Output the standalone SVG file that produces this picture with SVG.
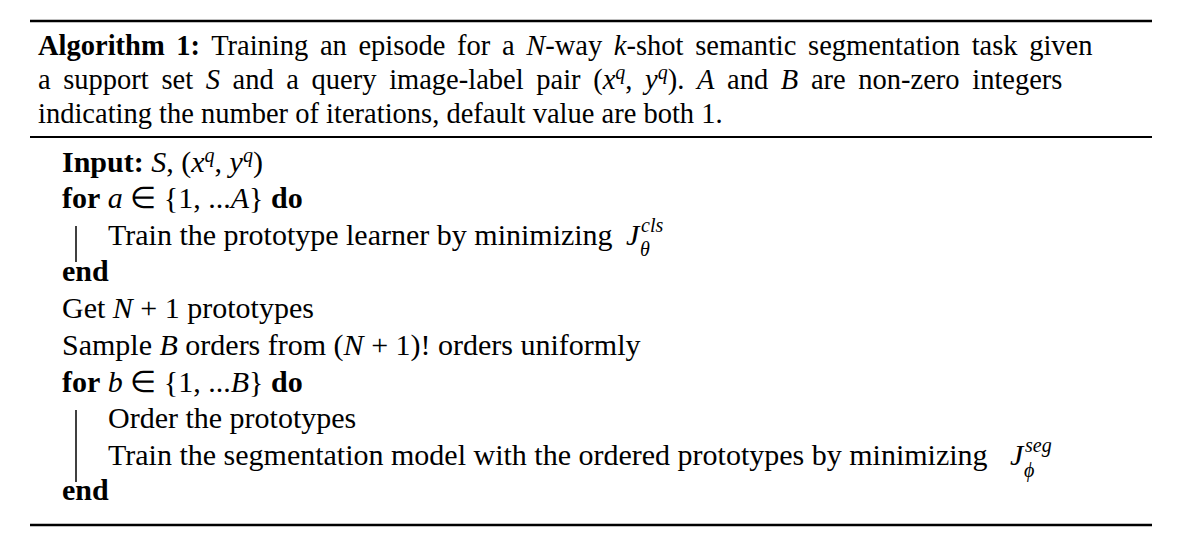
<svg xmlns="http://www.w3.org/2000/svg" width="1194" height="543" viewBox="0 0 1194 543">
<style>
text{font-family:"Liberation Serif","Times New Roman",serif;font-size:30px;fill:#000}
.c{font-size:28.5px}
.b{font-weight:bold}
.i{font-style:italic}
.s{font-size:20px;font-style:italic}
line{stroke:#000}
</style>
<rect width="1194" height="543" fill="#fff"/>
<line x1="30" y1="21" x2="1152" y2="21" stroke-width="2.5"/>
<line x1="30" y1="137" x2="1152" y2="137" stroke-width="2"/>
<line x1="30" y1="525" x2="1152" y2="525" stroke-width="2.5"/>
<text x="38" y="55" class="c" word-spacing="4.5"><tspan class="b">Algorithm 1:</tspan> Training an episode for a <tspan class="i">N</tspan>-way <tspan class="i">k</tspan>-shot semantic segmentation task given</text>
<text x="38" y="89" class="c" word-spacing="5.5">a support set <tspan class="i">S</tspan> and a query image-label pair (<tspan class="i">x</tspan><tspan class="s" dy="-10">q</tspan><tspan dy="10">,</tspan><tspan class="i"> y</tspan><tspan class="s" dy="-10">q</tspan><tspan dy="10">).  </tspan><tspan class="i">A</tspan> and <tspan class="i">B</tspan> are non-zero integers</text>
<text x="38" y="123" class="c">indicating the number of iterations, default value are both 1.</text>
<text x="62" y="172"><tspan class="b">Input:</tspan><tspan class="i"> S</tspan>, (<tspan class="i">x</tspan><tspan class="s" dy="-10">q</tspan><tspan dy="10">,</tspan><tspan class="i"> y</tspan><tspan class="s" dy="-10">q</tspan><tspan dy="10">)</tspan></text>
<text x="62" y="208"><tspan class="b">for</tspan> <tspan class="i">a</tspan> ∈ {1, ...<tspan class="i">A</tspan>} <tspan class="b">do</tspan></text>
<line x1="76" y1="226" x2="76" y2="262" stroke-width="1.5"/>
<text x="108" y="245">Train the prototype learner by minimizing</text>
<text x="626" y="245" class="i">J</text>
<text x="641" y="232" class="s">cls</text>
<text x="640" y="256" class="s">θ</text>
<text x="62" y="281" class="b">end</text>
<text x="62" y="318">Get <tspan class="i">N</tspan> + 1 prototypes</text>
<text x="62" y="355">Sample <tspan class="i">B</tspan> orders from (<tspan class="i">N</tspan> + 1)! orders uniformly</text>
<text x="62" y="392"><tspan class="b">for</tspan> <tspan class="i">b</tspan> ∈ {1, ...<tspan class="i">B</tspan>} <tspan class="b">do</tspan></text>
<line x1="76" y1="410" x2="76" y2="482" stroke-width="1.5"/>
<text x="108" y="428">Order the prototypes</text>
<text x="108" y="465">Train the segmentation model with the ordered prototypes by minimizing</text>
<text x="1010" y="465" class="i">J</text>
<text x="1025" y="452" class="s">seg</text>
<text x="1024" y="477" class="s">ϕ</text>
<text x="62" y="500" class="b">end</text>
</svg>
